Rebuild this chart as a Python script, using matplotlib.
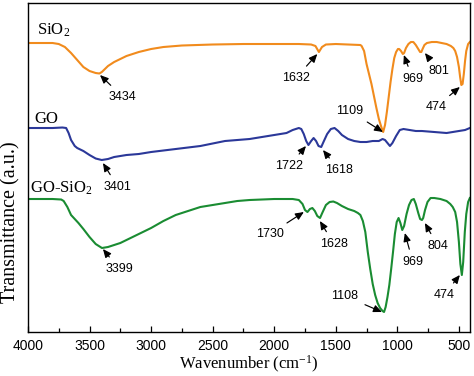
import matplotlib
matplotlib.use("Agg")
import matplotlib.pyplot as plt
from matplotlib.ticker import MultipleLocator

plt.rcParams['mathtext.fontset'] = 'custom'
plt.rcParams['mathtext.rm'] = 'Liberation Serif'
plt.rcParams['mathtext.it'] = 'Liberation Serif:italic'

# ---------------- data (transmittance, a.u.) ----------------
sio2_wn = [4000, 3800, 3750, 3700, 3650, 3600, 3550, 3500, 3450, 3420, 3400, 3350, 3300, 3250,
           3200, 3100, 3000, 2900, 2750, 2500, 2250, 2000, 1800, 1700, 1665, 1637, 1612, 1580,
           1500, 1400, 1300, 1290, 1270, 1250, 1230, 1210, 1190, 1170, 1150, 1130, 1115, 1100,
           1085, 1070, 1055, 1040, 1025, 1010, 995, 985, 970, 955, 945, 930, 910, 890, 870, 850,
           830, 815, 805, 795, 780, 760, 720, 680, 640, 600, 565, 545, 530, 515, 500, 490, 480,
           470, 460, 450, 440, 425, 411]
sio2_t = [289, 289, 288, 285, 279, 272, 265, 261, 259, 258.5, 260, 266, 270, 273,
          276, 280, 283, 285, 286.5, 287.5, 288, 288, 288, 287.5, 286, 280, 285, 287.5,
          288, 287.5, 287, 286, 281, 268, 258, 248, 236, 224, 213, 205, 200, 207,
          220, 235, 250, 263, 274, 280, 283, 283, 281, 278, 279, 284, 288, 290, 290, 287,
          283, 280, 280, 283, 287, 289, 290, 290, 289, 288, 286, 284, 281, 275, 265, 255, 247,
          248, 258, 271, 281, 288, 290]

go_wn = [4000, 3800, 3720, 3690, 3670, 3650, 3620, 3600, 3550, 3500, 3450, 3401, 3350, 3300,
         3200, 3100, 3000, 2800, 2600, 2400, 2200, 2000, 1900, 1850, 1800, 1780, 1760, 1740,
         1722, 1700, 1680, 1660, 1640, 1618, 1600, 1570, 1540, 1510, 1480, 1450, 1400, 1350,
         1300, 1250, 1200, 1150, 1120, 1100, 1080, 1060, 1040, 1010, 980, 950, 900, 850, 800,
         700, 600, 550, 500, 450, 411]
go_t = [204, 204, 204.5, 204, 199, 192, 186, 184, 181, 177, 173.5, 172, 173, 175,
        177, 178, 180, 183, 186, 191, 193, 197, 199, 202, 204, 203, 198, 191,
        187, 191, 194, 191, 186, 185, 190, 198, 203, 204, 201, 197, 193, 191,
        190, 190, 191, 191, 193, 192, 189, 186, 189, 196, 202, 203, 202, 201, 201,
        200, 199, 200, 201, 202, 204]

gosio2_wn = [4000, 3800, 3730, 3710, 3680, 3650, 3620, 3590, 3550, 3500, 3450, 3399, 3350, 3300,
             3250, 3200, 3100, 3000, 2900, 2800, 2700, 2600, 2500, 2400, 2300, 2200, 2000, 1850,
             1800, 1770, 1750, 1730, 1710, 1690, 1670, 1650, 1628, 1610, 1580, 1550, 1520, 1490,
             1450, 1400, 1350, 1320, 1300, 1280, 1260, 1240, 1220, 1200, 1180, 1160, 1140, 1120,
             1108, 1095, 1080, 1065, 1050, 1035, 1020, 1005, 990, 975, 960, 945, 925, 905, 885,
             866, 850, 830, 815, 800, 790, 775, 755, 730, 700, 650, 600, 570, 550, 530, 515, 500,
             488, 476, 465, 452, 440, 425, 411]
gosio2_t = [133, 133, 132.5, 131, 125, 117, 113, 109, 103, 95, 88, 84, 85, 87,
            89, 92, 98, 104, 111, 117, 121, 125, 127, 129, 131, 132, 133, 133,
            132, 128, 122, 120, 123, 124, 121, 116, 114, 119, 127, 130, 130.5, 129,
            126, 123, 121, 119, 117, 111, 100, 80, 63, 48, 37, 29, 24, 21,
            20, 25, 35, 47, 63, 80, 98, 110, 114, 109, 102, 106, 118, 127, 132,
            133, 128, 119, 113, 112, 114, 122, 130, 134, 134, 133, 131, 128, 125, 120, 110, 90,
            68, 57, 70, 100, 118, 130, 134]

# annotations: label, arrow tip (wn, T), text centre (wn, T)
ann_labels = ["3434", "1632", "969", "801", "474", "1109", "3401", "1722", "1618",
              "3399", "1730", "1628", "1108", "969", "804", "474"]
ann_tip_wn = [3415, 1650, 947, 776, 492, 1117, 3391, 1742, 1604,
              3391, 1759, 1629, 1125, 939, 776, 492]
ann_tip_t = [257, 278, 277, 279, 245, 200, 169, 186, 182,
             83, 120, 111, 20, 99, 109, 57]
ann_txt_wn = [3229, 1824, 874, 662, 687, 1385, 3269, 1880, 1474,
              3261, 2035, 1515, 1426, 874, 671, 622]
ann_txt_t = [235, 254, 253, 261, 225, 221, 145, 166, 162,
             63, 98, 88, 36, 70, 86, 37]

series_names = ["SiO$_2$", "GO", "GO-SiO$_2$"]
name_wn = [3927, 3951, 3984]
name_t = [297, 209, 139]

colors = ["#F18B1D", "#2B3899", "#1A8C32"]

# ---------------- plot ----------------
fig = plt.figure(figsize=(4.74, 3.76), dpi=100)
ax = fig.add_axes([0.059, 0.117, 0.9325, 0.875])

ax.plot(sio2_wn, sio2_t, color=colors[0], lw=1.5)
ax.plot(go_wn, go_t, color=colors[1], lw=1.5)
ax.plot(gosio2_wn, gosio2_t, color=colors[2], lw=1.5)

for lab, twn, tt, xwn, xt in zip(ann_labels, ann_tip_wn, ann_tip_t, ann_txt_wn, ann_txt_t):
    ax.annotate(lab, xy=(twn, tt), xytext=(xwn, xt), ha='center', va='center',
                fontsize=9, family='Liberation Sans',
                arrowprops=dict(arrowstyle='-|>,head_length=0.5,head_width=0.22',
                                color='black', lw=0.85,
                                mutation_scale=10, shrinkA=3, shrinkB=0))

for name, nw, nt in zip(series_names, name_wn, name_t):
    ax.text(nw, nt, name, ha='left', va='baseline', fontsize=12, family='Liberation Serif')

ax.set_xlim(4000, 410)
ax.set_ylim(0, 329)
ax.xaxis.set_major_locator(MultipleLocator(500))
ax.xaxis.set_minor_locator(MultipleLocator(250))
ax.tick_params(axis='x', which='both', direction='in', top=False, labelsize=10, pad=5)
ax.tick_params(axis='x', which='major', length=4.5, width=0.9)
ax.tick_params(axis='x', which='minor', length=3, width=0.9)
for lbl in ax.get_xticklabels():
    lbl.set_family('Liberation Sans')
ax.set_yticks([])
for s in ax.spines.values():
    s.set_linewidth(1.0)

ax.set_xlabel('Wavenumber (cm$^{-1}$)', fontsize=12, family='Liberation Serif', labelpad=1)
ax.set_ylabel('Transmittance (a.u.)', fontsize=14.5, family='Liberation Serif')
ax.yaxis.set_label_coords(-0.018, 0.335)

fig.savefig('out.png', dpi=100)
